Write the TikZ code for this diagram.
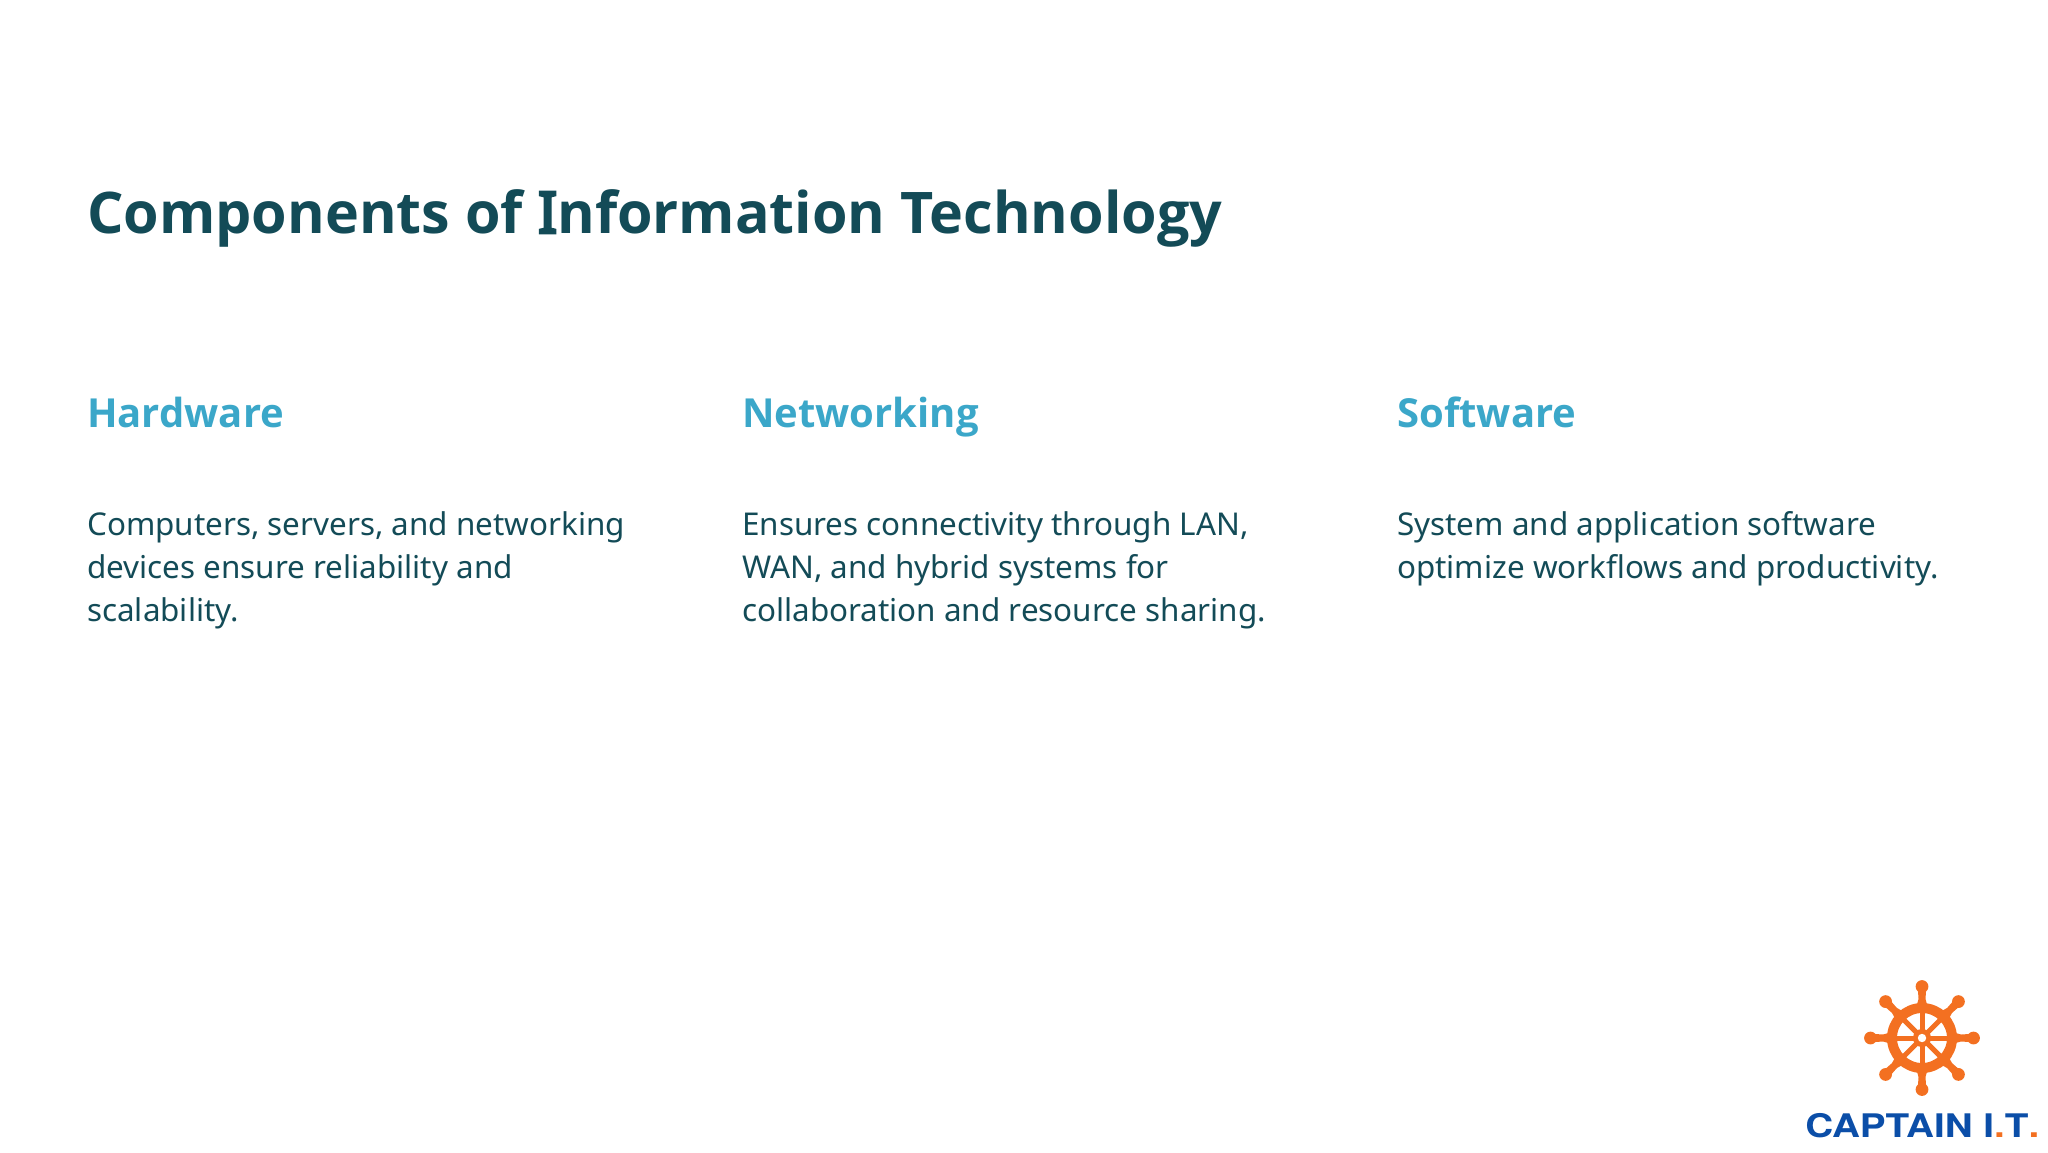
\documentclass[tikz,border=0pt]{standalone}
\usepackage{fontspec}
\setmainfont{Noto Sans}
\newfontfamily\headfont{Open Sans}[BoldFont={* Bold}]
\newfontfamily\serifI{Noto Sans}[FakeBold=5]
\newfontfamily\logofont{TeX Gyre Heros}
\definecolor{titlecol}{HTML}{134B57}
\definecolor{headcol}{HTML}{3BA7C9}
\definecolor{bodycol}{HTML}{134B57}
\definecolor{wheelcol}{HTML}{F37021}
\definecolor{logoblue}{HTML}{0B4EA8}
\tikzset{
  titletext/.style={anchor=base west,inner sep=0pt,text=titlecol,font=\headfont\bfseries\fontsize{57.4}{57.4}\selectfont},
  headtext/.style={anchor=base west,inner sep=0pt,text=headcol,font=\headfont\bfseries\fontsize{40}{40}\selectfont},
  bodytext/.style={anchor=base west,inner sep=0pt,text=bodycol,font=\fontsize{31.4}{31.4}\selectfont},
  wheelline/.style={draw=wheelcol,line width=5pt},
}
\begin{document}
\begin{tikzpicture}[x=1pt,y=-1pt]
\useasboundingbox (0,0) rectangle (2048,1152);
\node[titletext] (title) at (87,233) {Components of {\serifI I}nformation Technology};
\node[headtext] (h1) at (87,427) {Hardware};
\node[headtext] (h2) at (742,427) {Networking};
\node[headtext] (h3) at (1397,427) {Software};
\node[bodytext] (a1) at (87,535) {Computers, servers, and networking};
\node[bodytext] (a2) at (87,578) {devices ensure reliability and};
\node[bodytext] (a3) at (87,621) {scalability.};
\node[bodytext] (b1) at (742,535) {Ensures connectivity through LAN,};
\node[bodytext] (b2) at (742,578) {WAN, and hybrid systems for};
\node[bodytext] (b3) at (742,621) {collaboration and resource sharing.};
\node[bodytext] (c1) at (1397,535) {System and application software};
\node[bodytext] (c2) at (1397,578) {optimize workflows and productivity.};
% wheel
\begin{scope}[shift={(1922,1038)}]
  \foreach \a in {0,45,...,315}{
    \draw[wheelline] (0,0) -- (\a:30);
    \fill[wheelcol,rotate=\a] (30,-6) -- (39,-3.5) -- (47,-4) -- (47,4) -- (39,3.5) -- (30,6) -- cycle;
    \fill[wheelcol] (\a:51.5) circle (6.4);
  }
  \draw[draw=wheelcol,line width=10pt] (0,0) circle (30);
  \fill[wheelcol] (0,0) circle (9);
  \fill[white] (0,0) circle (4.2);
\end{scope}
\node[anchor=base west,inner sep=0pt,text=logoblue,font=\logofont\bfseries\fontsize{32.5}{32.5}\selectfont,xscale=1.19] (logo) at (1805,1137) {CAPTAIN I\textcolor{wheelcol}{.}T\textcolor{wheelcol}{.}};
\end{tikzpicture}
\end{document}
